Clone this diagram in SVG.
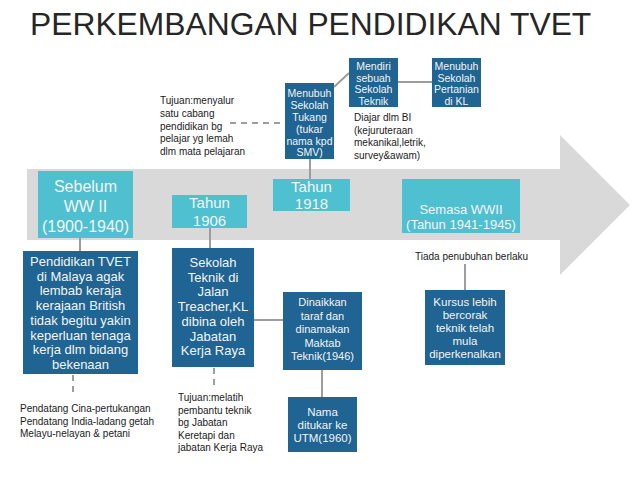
<svg xmlns="http://www.w3.org/2000/svg" width="638" height="478" viewBox="0 0 638 478">
<style>
.t{fill:#4fc0cf}
.d{fill:#1f6492}
.wt{fill:#f4f4f4;font-family:"Liberation Sans",Arial,sans-serif;text-anchor:middle}
.bt{fill:#1a1a1a;font-family:"Liberation Sans",Arial,sans-serif;font-size:10px}
.c{stroke:#9d9d9d;stroke-width:2;fill:none}
.dash{stroke:#9d9d9d;stroke-width:2;fill:none;stroke-dasharray:6 5}
</style>
<rect width="638" height="478" fill="#ffffff"/>
<text x="30" y="35" font-family="'Liberation Sans',Arial,sans-serif" font-size="31.8" fill="#262626">PERKEMBANGAN PENDIDIKAN TVET</text>
<polygon id="timeline" points="27,169 560,169 560,135 630,205 560,275 560,240 27,240" fill="#d9d9d9"/>
<g id="connectors">
<line class="c" x1="80" y1="238" x2="80" y2="252"/>
<line class="c" x1="210" y1="228" x2="210" y2="249"/>
<line class="c" x1="310" y1="179" x2="310" y2="158"/>
<line class="c" x1="334" y1="87" x2="349" y2="73"/>
<line class="c" x1="398" y1="82" x2="432" y2="82"/>
<line class="c" x1="254" y1="320" x2="283" y2="320"/>
<line class="c" x1="322" y1="370" x2="322" y2="397"/>
<line class="c" x1="465" y1="264" x2="465" y2="290"/>
<line class="dash" x1="73" y1="375" x2="73" y2="396"/>
<line class="dash" x1="214" y1="368" x2="214" y2="386"/>
<line class="dash" x1="230" y1="123" x2="284" y2="123"/>
</g>
<g id="sebelum">
<rect class="t" x="38" y="171" width="95" height="67"/>
<text class="wt" font-size="16"><tspan x="85.5" y="192">Sebelum</tspan><tspan x="85.5" y="212">WW II</tspan><tspan x="85.5" y="232">(1900-1940)</tspan></text>
</g>
<g id="tahun1906">
<rect class="t" x="172" y="195" width="75" height="33"/>
<text class="wt" font-size="15"><tspan x="209.5" y="208">Tahun</tspan><tspan x="209.5" y="226">1906</tspan></text>
</g>
<g id="tahun1918">
<rect class="t" x="273" y="179" width="77" height="32"/>
<text class="wt" font-size="15"><tspan x="311.5" y="192">Tahun</tspan><tspan x="311.5" y="209">1918</tspan></text>
</g>
<g id="semasa">
<rect class="t" x="402" y="179" width="118" height="54"/>
<text class="wt" font-size="13"><tspan x="461" y="214">Semasa WWII</tspan><tspan x="461" y="229">(Tahun 1941-1945)</tspan></text>
</g>
<g id="pendidikan">
<rect class="d" x="23" y="251" width="115" height="123"/>
<text class="wt" font-size="13"><tspan x="80.5" y="266">Pendidikan TVET</tspan><tspan x="80.5" y="280.7">di Malaya agak</tspan><tspan x="80.5" y="295.4">lembab keraja</tspan><tspan x="80.5" y="310.1">kerajaan British</tspan><tspan x="80.5" y="324.8">tidak begitu yakin</tspan><tspan x="80.5" y="339.5">keperluan tenaga</tspan><tspan x="80.5" y="354.2">kerja dlm bidang</tspan><tspan x="80.5" y="368.9">bekenaan</tspan></text>
</g>
<g id="sekolahTeknik">
<rect class="d" x="172" y="248" width="82" height="119"/>
<text class="wt" font-size="13"><tspan x="213" y="267">Sekolah</tspan><tspan x="213" y="281.7">Teknik di</tspan><tspan x="213" y="296.4">Jalan</tspan><tspan x="213" y="311.1">Treacher,KL</tspan><tspan x="213" y="325.8">dibina oleh</tspan><tspan x="213" y="340.5">Jabatan</tspan><tspan x="213" y="355.2">Kerja Raya</tspan></text>
</g>
<g id="dinaikkan">
<rect class="d" x="283" y="292" width="79" height="78"/>
<text class="wt" font-size="11"><tspan x="322.5" y="306">Dinaikkan</tspan><tspan x="322.5" y="319.5">taraf dan</tspan><tspan x="322.5" y="333">dinamakan</tspan><tspan x="322.5" y="346.5">Maktab</tspan><tspan x="322.5" y="360">Teknik(1946)</tspan></text>
</g>
<g id="nama">
<rect class="d" x="288" y="397" width="69" height="55"/>
<text class="wt" font-size="11.5"><tspan x="322.5" y="416">Nama</tspan><tspan x="322.5" y="429">ditukar ke</tspan><tspan x="322.5" y="442">UTM(1960)</tspan></text>
</g>
<g id="kursus">
<rect class="d" x="425" y="290" width="80" height="75"/>
<text class="wt" font-size="11.5"><tspan x="465" y="306">Kursus lebih</tspan><tspan x="465" y="319">bercorak</tspan><tspan x="465" y="332">teknik telah</tspan><tspan x="465" y="345">mula</tspan><tspan x="465" y="358">diperkenalkan</tspan></text>
</g>
<g id="tukang">
<rect class="d" x="285" y="83" width="49" height="76"/>
<text class="wt" font-size="10.5"><tspan x="309.5" y="97">Menubuh</tspan><tspan x="309.5" y="109">Sekolah</tspan><tspan x="309.5" y="121">Tukang</tspan><tspan x="309.5" y="133">(tukar</tspan><tspan x="309.5" y="144.5">nama kpd</tspan><tspan x="309.5" y="156">SMV)</tspan></text>
</g>
<g id="mendiri">
<rect class="d" x="349" y="58" width="49" height="49"/>
<text class="wt" font-size="10.5"><tspan x="373.5" y="70">Mendiri</tspan><tspan x="373.5" y="81.5">sebuah</tspan><tspan x="373.5" y="93">Sekolah</tspan><tspan x="373.5" y="104.5">Teknik</tspan></text>
</g>
<g id="pertanian">
<rect class="d" x="432" y="58" width="49" height="49"/>
<text class="wt" font-size="10.5"><tspan x="456.5" y="70">Menubuh</tspan><tspan x="456.5" y="81.5">Sekolah</tspan><tspan x="456.5" y="93">Pertanian</tspan><tspan x="456.5" y="104.5">di KL</tspan></text>
</g>
<g id="tujuan1">
<text class="bt"><tspan x="160" y="104">Tujuan:menyalur</tspan><tspan x="160" y="117">satu cabang</tspan><tspan x="160" y="129.5">pendidikan bg</tspan><tspan x="160" y="142">pelajar yg lemah</tspan><tspan x="160" y="154.5">dlm mata pelajaran</tspan></text>
</g>
<g id="diajar">
<text class="bt"><tspan x="354" y="121">Diajar dlm BI</tspan><tspan x="354" y="133.5">(kejuruteraan</tspan><tspan x="354" y="146">mekanikal,letrik,</tspan><tspan x="354" y="158.5">survey&amp;awam)</tspan></text>
</g>
<g id="tiada">
<text class="bt" x="415" y="260">Tiada penubuhan berlaku</text>
</g>
<g id="pendatang">
<text class="bt"><tspan x="20" y="412">Pendatang Cina-pertukangan</tspan><tspan x="20" y="424.5">Pendatang India-ladang getah</tspan><tspan x="20" y="437">Melayu-nelayan &amp; petani</tspan></text>
</g>
<g id="tujuan2">
<text class="bt"><tspan x="178" y="401">Tujuan:melatih</tspan><tspan x="178" y="413.5">pembantu teknik</tspan><tspan x="178" y="426">bg Jabatan</tspan><tspan x="178" y="438.5">Keretapi dan</tspan><tspan x="178" y="451">jabatan Kerja Raya</tspan></text>
</g>
</svg>
